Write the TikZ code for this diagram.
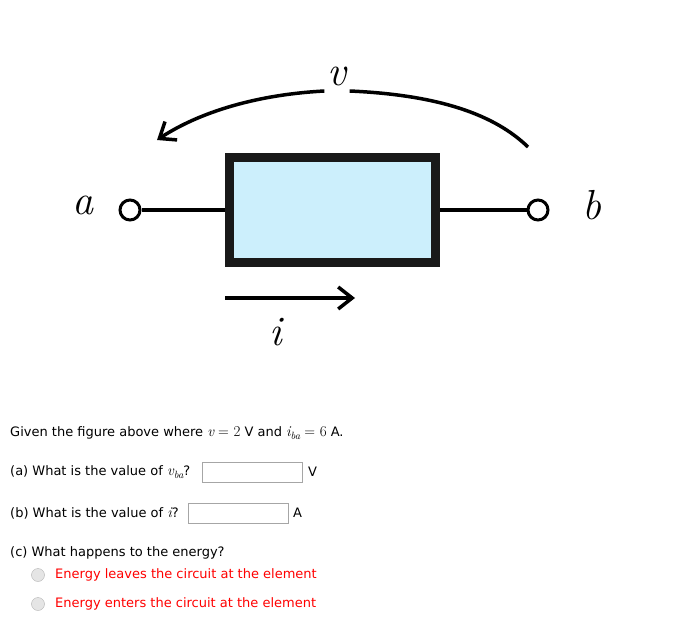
\documentclass[tikz,border=0pt]{standalone}
\usepackage{fontspec}
\newfontfamily\vfont{DejaVu Sans}
\newfontfamily\lmfont{Latin Modern Roman}
\newcommand{\mi}[1]{{\lmfont\itshape\fontsize{15}{15}\selectfont #1}}
\newcommand{\mr}[1]{{\lmfont\fontsize{15}{15}\selectfont #1}}
\newcommand{\msub}[1]{\raisebox{-2.5pt}{\lmfont\itshape\fontsize{10.5}{10.5}\selectfont #1}}
\usetikzlibrary{arrows.meta}
\tikzset{
 txt/.style={anchor=west,inner sep=0pt,font=\vfont\fontsize{13}{15}\selectfont},
 ansbox/.style={draw=gray!70,line width=0.8pt,minimum width=100pt,minimum height=20pt,inner sep=0pt,anchor=west},
 radio/.style={circle,draw=gray!60,fill=gray!20,minimum size=13pt,inner sep=0pt},
 term/.style={circle,draw,line width=3pt,minimum size=20pt,inner sep=0pt},
 wire/.style={line width=3.5pt},
 arc/.style={line width=3.5pt},
 bigl/.style={font=\lmfont\itshape\fontsize{42}{42}\selectfont}
}
\begin{document}
\begin{tikzpicture}[x=1pt,y=-1pt]
\useasboundingbox (0,0) rectangle (690,631);
\node[draw=black!90,line width=9pt,fill=cyan!20,minimum width=206pt,minimum height=105pt,inner sep=0pt] (el) at (332.5,210) {};
\node[term] (ta) at (130,210) {};
\node[term] (tb) at (538,210) {};
\draw[wire] (ta) -- (el.west);
\draw[wire] (el.east) -- (tb);
\node[bigl] (la) at (83,205) {a};
\node[bigl] (lb) at (592,205) {b};
\node[bigl,inner sep=3pt] (lv) at (337,76) {v};
\coordinate (vs) at (528,147);
\coordinate (ve) at (157,140);
\draw[arc] (vs) .. controls (495,115) and (440,95) .. (lv.east|-0,91);
\draw[arc,-{Straight Barb[length=14pt,width=22pt]}] (lv.west|-0,91) .. controls (250,95) and (195,115) .. (ve);
\coordinate (is) at (225,298);
\coordinate (ie) at (355,298);
\draw[arc,-{Straight Barb[length=14pt,width=22pt]}] (is) -- (ie);
\node[bigl] (li) at (276,332) {i};
\node[txt] (q0) at (10,433) {Given the figure above where \mi{v} \mr{= 2} V and \mi{i}\msub{ba} \mr{= 6} A.};
\node[txt] (qa) at (10,472) {(a) What is the value of \mi{v}\msub{ba}?};
\node[ansbox] (ba) at (202,472) {};
\node[txt] (ua) at (308,472) {V};
\node[txt] (qb) at (10,513) {(b) What is the value of \mi{i}?};
\node[ansbox] (bb) at (188,513) {};
\node[txt] (ub) at (293,513) {A};
\node[txt] (qc) at (10,553) {(c) What happens to the energy?};
\node[radio] (r1) at (38,575) {};
\node[radio] (r2) at (38,604) {};
\node[txt,text=red] (o1) at (55,575) {Energy leaves the circuit at the element};
\node[txt,text=red] (o2) at (55,604) {Energy enters the circuit at the element};
\end{tikzpicture}
\end{document}
